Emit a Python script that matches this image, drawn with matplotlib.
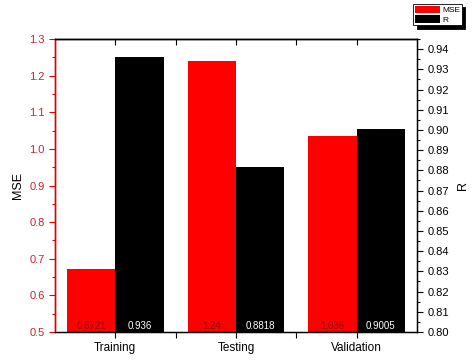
import matplotlib
matplotlib.use("Agg")
import matplotlib.pyplot as plt
import numpy as np
from matplotlib.patches import Patch
from matplotlib.ticker import MultipleLocator, FixedLocator, NullFormatter

plt.rcParams['font.family'] = ['Liberation Sans', 'DejaVu Sans']

categories = ["Training", "Testing", "Validation"]
mse = [0.6721, 1.24, 1.036]
r_vals = [0.936, 0.8818, 0.9005]
mse_labels = ["0.6721", "1.24", "1.036"]
r_labels = ["0.936", "0.8818", "0.9005"]

fig = plt.figure(figsize=(4.74, 3.61), dpi=100)
ax = fig.add_axes([55/474, 29/361, (417-55)/474, (332-39)/361])
ax2 = ax.twinx()

x = np.arange(len(categories))
w = 0.4
ax.bar(x - w/2, [m - 0.5 for m in mse], w, bottom=0.5, color='#ff0000', zorder=2)
ax2.bar(x + w/2, [v - 0.8 for v in r_vals], w, bottom=0.8, color='black', zorder=2)

ax.set_xlim(-0.5, 2.5)
ax.set_ylim(0.5, 1.3)
ax2.set_ylim(0.80, 0.945)

red = '#e00000'
lab_red = '#c0282d'
ax.spines['left'].set_color(red)
ax2.spines['left'].set_color(red)
ax.yaxis.set_major_locator(MultipleLocator(0.1))
ax.yaxis.set_minor_locator(MultipleLocator(0.05))
ax.tick_params(axis='y', which='both', direction='out', colors=red, labelcolor=lab_red, labelsize=8)
ax.tick_params(axis='y', which='major', length=4, width=0.8)
ax.tick_params(axis='y', which='minor', length=2.5, width=0.8)
ax.yaxis.set_major_formatter(plt.FormatStrFormatter('%.1f'))

ax2.yaxis.set_major_locator(MultipleLocator(0.01))
ax2.yaxis.set_minor_locator(MultipleLocator(0.005))
ax2.yaxis.set_major_formatter(plt.FormatStrFormatter('%.2f'))
ax2.tick_params(axis='y', which='both', direction='out', colors='black', labelsize=8)
ax2.tick_params(axis='y', which='major', length=4, width=0.8)
ax2.tick_params(axis='y', which='minor', length=2.5, width=0.8)

ax.set_xticks(x)
ax.set_xticklabels(categories, fontsize=8.5)
ax.xaxis.set_minor_locator(FixedLocator([0.5, 1.5]))
ax.tick_params(axis='x', which='both', direction='out', length=4.5, width=0.8, top=False, pad=2.5)

top = ax.secondary_xaxis('top')
top.set_xticks(x)
top.xaxis.set_minor_locator(FixedLocator([0.5, 1.5]))
top.xaxis.set_major_formatter(NullFormatter())
top.tick_params(axis='x', which='both', direction='in', length=4.5, width=0.8)
top.spines['top'].set_linewidth(1.0)

for s in ['top', 'bottom', 'right']:
    ax2.spines[s].set_linewidth(1.0)
ax.spines['left'].set_linewidth(1.0)
ax2.spines['left'].set_linewidth(1.0)

ax.set_ylabel("MSE", fontsize=9, labelpad=4)
ax2.set_ylabel("R", fontsize=9, labelpad=6)

for i in range(len(categories)):
    ax.text(x[i] - w/2, 0.503, mse_labels[i], ha='center', va='bottom', fontsize=7, color='#8b0000', zorder=3)
    ax2.text(x[i] + w/2, 0.8005, r_labels[i], ha='center', va='bottom', fontsize=7, color='white', zorder=3)

handles = [Patch(facecolor='#ff0000', label='MSE'), Patch(facecolor='black', label='R')]
leg = fig.legend(handles=handles, loc='upper right', bbox_to_anchor=(462/474, 1 - 4/361),
                 fontsize=6, frameon=True, fancybox=False,
                 shadow={'color': 'black', 'alpha': 1.0, 'ox': 2.5, 'oy': -2.5},
                 edgecolor='black',
                 handlelength=3.0, handleheight=1.0, borderpad=0.2, labelspacing=0.1,
                 handletextpad=0.3, borderaxespad=0)
leg.get_frame().set_linewidth(0.6)

fig.savefig("out.png", dpi=100)
